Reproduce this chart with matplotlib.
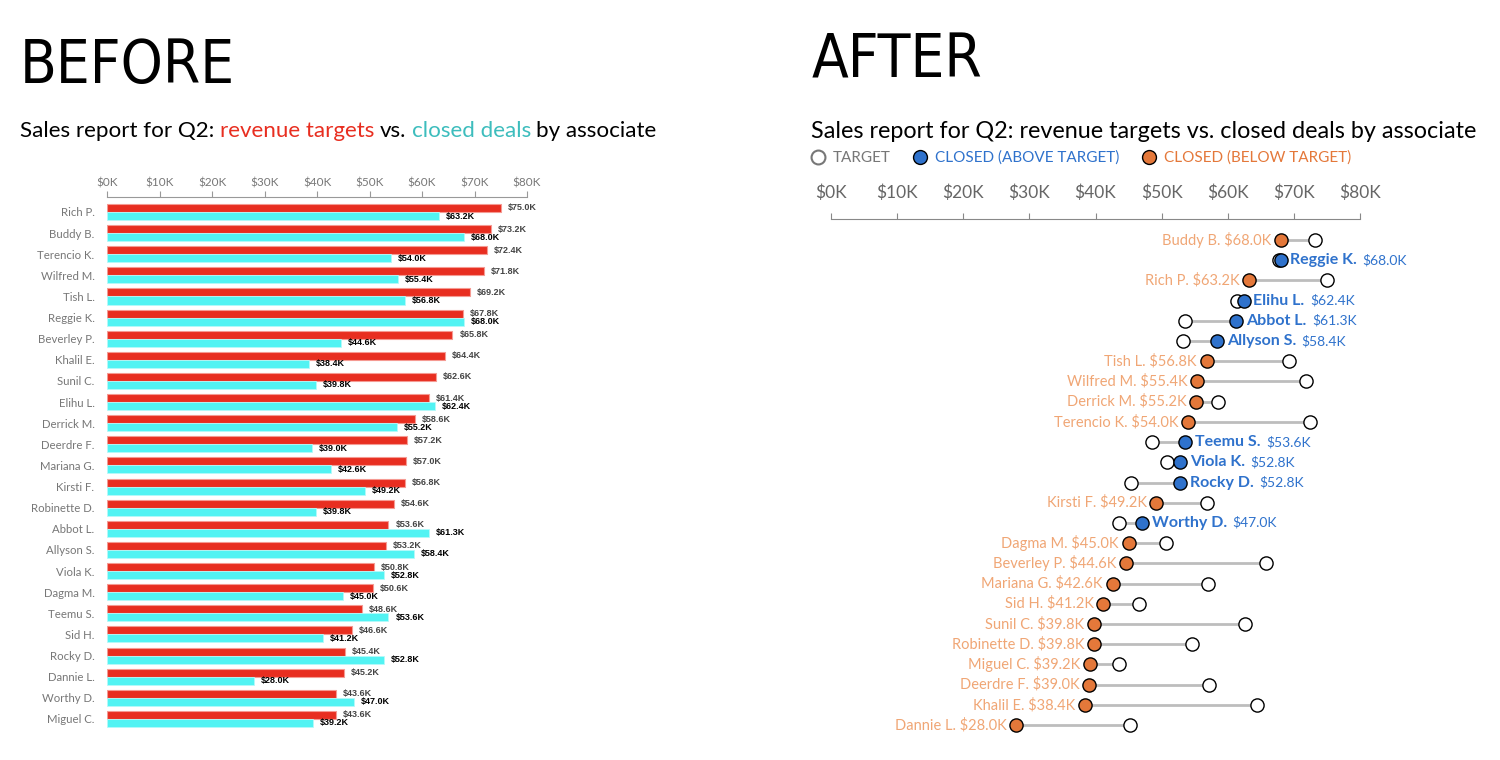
import numpy as np
import matplotlib.pyplot as plt
import pandas as pd
from matplotlib.lines import Line2D
from matplotlib.offsetbox import TextArea, HPacker, AnnotationBbox

# data, ordered by target (left chart order)
names = ['Rich P.', 'Buddy B.', 'Terencio K.', 'Wilfred M.', 'Tish L.', 'Reggie K.',
         'Beverley P.', 'Khalil E.', 'Sunil C.', 'Elihu L.', 'Derrick M.', 'Deerdre F.',
         'Mariana G.', 'Kirsti F.', 'Robinette D.', 'Abbot L.', 'Allyson S.', 'Viola K.',
         'Dagma M.', 'Teemu S.', 'Sid H.', 'Rocky D.', 'Dannie L.', 'Worthy D.', 'Miguel C.']
targets = [75.0, 73.2, 72.4, 71.8, 69.2, 67.8, 65.8, 64.4, 62.6, 61.4, 58.6, 57.2,
           57.0, 56.8, 54.6, 53.6, 53.2, 50.8, 50.6, 48.6, 46.6, 45.4, 45.2, 43.6, 43.6]
closed = [63.2, 68.0, 54.0, 55.4, 56.8, 68.0, 44.6, 38.4, 39.8, 62.4, 55.2, 39.0,
          42.6, 49.2, 39.8, 61.3, 58.4, 52.8, 45.0, 53.6, 41.2, 52.8, 28.0, 47.0, 39.2]
xticks = [0, 10, 20, 30, 40, 50, 60, 70, 80]

RED = '#e82e20'
CYAN = '#52f3f3'
TEAL = '#3dbdbd'
BLUE = '#2f72cc'
ORANGE = '#e4783a'
LORANGE = '#f0a675'
GREY = '#777777'

W, H = 1500, 760
fig = plt.figure(figsize=(15, 7.6), dpi=100)
plt.rcParams['font.family'] = ['Lato', 'DejaVu Sans']

def px(x0, y0, x1, y1):
    return [x0 / W, 1 - y1 / H, (x1 - x0) / W, (y1 - y0) / H]

hand = ['DejaVu Sans', 'Lato']
fig.text(20 / W, 1 - 66 / H, 'BEFORE', fontsize=43, family=hand, fontstretch='condensed',
         fontweight='light', va='center', ha='left')
fig.text(812 / W, 1 - 61 / H, 'AFTER', fontsize=43, family=hand, fontstretch='condensed',
         fontweight='light', va='center', ha='left')

# multi colour title (left)
parts = [('Sales report for Q2:', 'black'), ('revenue targets', RED), ('vs.', 'black'),
         ('closed deals', TEAL), ('by associate', 'black')]
box = HPacker(children=[TextArea(t, textprops=dict(color=c, fontsize=16.1)) for t, c in parts],
              sep=4, pad=0, align='baseline')
fig.add_artist(AnnotationBbox(box, (20 / W, 1 - 131 / H), xycoords='figure fraction',
                              box_alignment=(0, 0.5), frameon=False, pad=0))
fig.text(811 / W, 1 - 131 / H, 'Sales report for Q2: revenue targets vs. closed deals by associate',
         fontsize=16.8, va='center', ha='left')

# ---------- BEFORE: grouped bars ----------
rows = np.arange(len(names))
axL = fig.add_axes(px(107, 197, 527, 735))
axL.barh(rows - 0.19, targets, 0.38, color=RED, edgecolor='#f59a92', linewidth=0.8)
axL.barh(rows + 0.19, closed, 0.38, color=CYAN, edgecolor='#b5fafa', linewidth=0.6)
for i in rows:
    axL.annotate('$%.1fK' % targets[i], (targets[i], i - 0.19), xytext=(5, 0),
                 textcoords='offset points', ha='left', va='center', fontsize=6.5,
                 fontweight='bold', color='#444444', family='Liberation Sans')
    axL.annotate('$%.1fK' % closed[i], (closed[i], i + 0.19), xytext=(5, 0),
                 textcoords='offset points', ha='left', va='center', fontsize=6.5,
                 fontweight='bold', color='black', family='Liberation Sans')
axL.set_xlim(0, 80)
axL.set_ylim(24.76, -0.71)
axL.xaxis.tick_top()
axL.set_xticks(xticks)
axL.set_xticklabels(['$%dK' % v for v in xticks])
axL.tick_params(axis='x', direction='out', length=4, color='#999999', labelsize=8.5,
                labelcolor=GREY, pad=2)
axL.set_yticks(rows)
axL.set_yticklabels(names)
axL.tick_params(axis='y', length=0, labelsize=8.2, labelcolor=GREY, pad=9)
for s in ['left', 'right', 'bottom']:
    axL.spines[s].set_visible(False)
axL.spines['top'].set_color('#999999')

# ---------- AFTER: dot plot ----------
df = pd.DataFrame({'name': names, 'target': targets, 'closed': closed})
df = df.sort_values('closed', ascending=False, kind='stable').reset_index(drop=True)

axR = fig.add_axes(px(831, 219, 1360, 745))
for i, r in df.iterrows():
    above = r['closed'] >= r['target']
    axR.plot([r['closed'], r['target']], [i, i], color='#bdbdbd', lw=2, zorder=1,
             solid_capstyle='butt')
    axR.plot(r['target'], i, 'o', ms=9.5, mfc='white', mec='black', mew=1, zorder=2)
    axR.plot(r['closed'], i, 'o', ms=9.5, mfc=BLUE if above else ORANGE, mec='black',
             mew=1, zorder=3)
    if above:
        lab = HPacker(children=[
            TextArea(r['name'], textprops=dict(color=BLUE, fontsize=11.5, fontweight='bold')),
            TextArea('$%.1fK' % r['closed'], textprops=dict(color=BLUE, fontsize=10))],
            sep=4, pad=0, align='baseline')
        axR.add_artist(AnnotationBbox(lab, (r['closed'], i), xybox=(7, 0),
                                      boxcoords='offset points', box_alignment=(0, 0.5),
                                      frameon=False, pad=0))
    else:
        axR.annotate('%s $%.1fK' % (r['name'], r['closed']), (r['closed'], i),
                     xytext=(-7, 0), textcoords='offset points', ha='right', va='center',
                     fontsize=10.5, color=LORANGE)
axR.set_xlim(0, 80)
axR.set_ylim(24.99, -1.04)
axR.xaxis.tick_top()
axR.set_xticks(xticks)
axR.set_xticklabels(['$%dK' % v for v in xticks])
axR.tick_params(axis='x', direction='out', length=4, color='#888888', labelsize=12.5,
                labelcolor='#666666', pad=9)
axR.set_yticks([])
for s in ['left', 'right', 'bottom']:
    axR.spines[s].set_visible(False)
axR.spines['top'].set_color('#888888')

handles = [Line2D([], [], ls='', marker='o', ms=10, mfc='white', mec=GREY, mew=1.5),
           Line2D([], [], ls='', marker='o', ms=10, mfc=BLUE, mec='black', mew=1),
           Line2D([], [], ls='', marker='o', ms=10, mfc=ORANGE, mec='black', mew=1)]
fig.legend(handles, ['TARGET', 'CLOSED (ABOVE TARGET)', 'CLOSED (BELOW TARGET)'],
           loc='center left', bbox_to_anchor=(810 / W, 1 - 158 / H), ncol=3, frameon=False,
           fontsize=11, labelcolor=[GREY, BLUE, ORANGE], handletextpad=0.5,
           columnspacing=1.4, handlelength=1.0, borderpad=0, borderaxespad=0)

fig.savefig('out.png', dpi=100, facecolor='white')
